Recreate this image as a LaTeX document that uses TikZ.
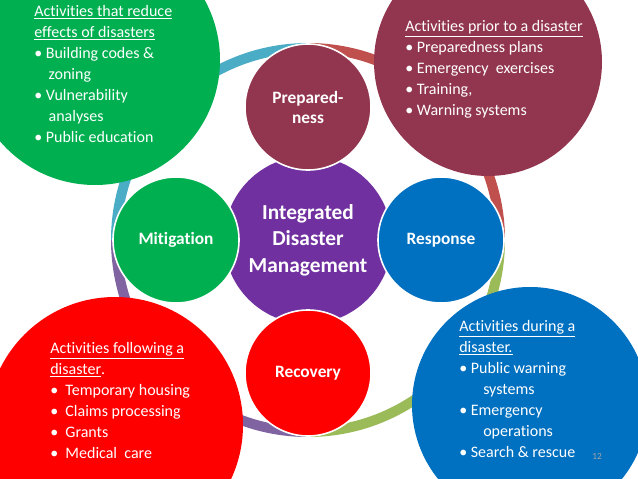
\documentclass[tikz,border=0pt]{standalone}
\usepackage{fontspec}
\setmainfont{Carlito}[Ligatures={NoCommon,NoRare}]
\definecolor{cgreen}{RGB}{0,176,80}
\definecolor{cmaroon}{RGB}{146,54,80}
\definecolor{cpurple}{RGB}{112,48,160}
\definecolor{cblue}{RGB}{0,112,192}
\definecolor{cred}{RGB}{255,0,0}
\definecolor{rteal}{RGB}{75,172,198}
\definecolor{rred}{RGB}{192,80,77}
\definecolor{rgreen}{RGB}{155,187,89}
\definecolor{rpurple}{RGB}{128,100,162}
\begin{document}
\begin{tikzpicture}[x=0.75pt,y=-0.75pt,
  small/.style={circle,draw=white,line width=1.2pt,minimum size=126*0.75pt,inner sep=0pt,text=white,font=\fontsize{13}{15}\selectfont\bfseries,align=center},
  body/.style={anchor=north west,text=white,align=left,inner sep=0pt,font=\fontsize{12}{15.8}\selectfont},
  seg/.style={line width=7.5pt}]
\useasboundingbox (0,0) rectangle (638,478);
\coordinate (c) at (308,240);
\draw[seg,rteal] (c) ++(180:192) arc[start angle=180,end angle=270,radius=192];
\draw[seg,rred] (c) ++(270:192) arc[start angle=270,end angle=360,radius=192];
\draw[seg,rgreen] (c) ++(0:192) arc[start angle=0,end angle=90,radius=192];
\draw[seg,rpurple] (c) ++(90:192) arc[start angle=90,end angle=180,radius=192];
\node[circle,fill=cpurple,minimum size=168*0.75pt,inner sep=0pt,text=white,align=center,font=\fontsize{16}{20}\selectfont\bfseries] (idm) at (308,240) {Integrated\\Disaster\\Management};
\node[small,fill=cmaroon] (prep) at (308,107) {Prepared-\\ness};
\node[small,fill=cgreen] (mit) at (176,240) {Mitigation};
\node[small,fill=cblue] (resp) at (441,240) {Response};
\node[small,fill=cred] (rec) at (308,373) {Recovery};
\fill[cgreen] (95,60) circle[radius=125];
\fill[cmaroon] (488,62) circle[radius=114];
\fill[cred] (115,425) circle[radius=128];
\fill[cblue] (530,405) circle[radius=118];
\node[body] (gt) at (34,5) {\underline{Activities that reduce}\\\underline{effects of disasters}\\• Building codes \&\\\hspace{0.9em}zoning\\• Vulnerability\\\hspace{0.9em}analyses\\• Public education};
\node[body] (mt) at (405,20) {\underline{Activities prior to a disaster}\\• Preparedness plans\\• Emergency\ \ exercises\\• Training,\\• Warning systems};
\node[body] (rt) at (50,342) {\underline{Activities following a}\\\underline{disaster}.\\•\ \ Temporary housing\\•\ \ Claims processing\\•\ \ Grants\\•\ \ Medical\ \ care};
\node[body] (bt) at (459,320) {\underline{Activities during a}\\\underline{disaster.}\\• Public warning\\\hspace{1.5em}systems\\• Emergency\\\hspace{1.5em}operations\\• Search \& rescue};
\node[text=gray!70,font=\fontsize{7}{8}\selectfont,inner sep=0pt] (pg) at (597,456) {12};
\end{tikzpicture}
\end{document}
